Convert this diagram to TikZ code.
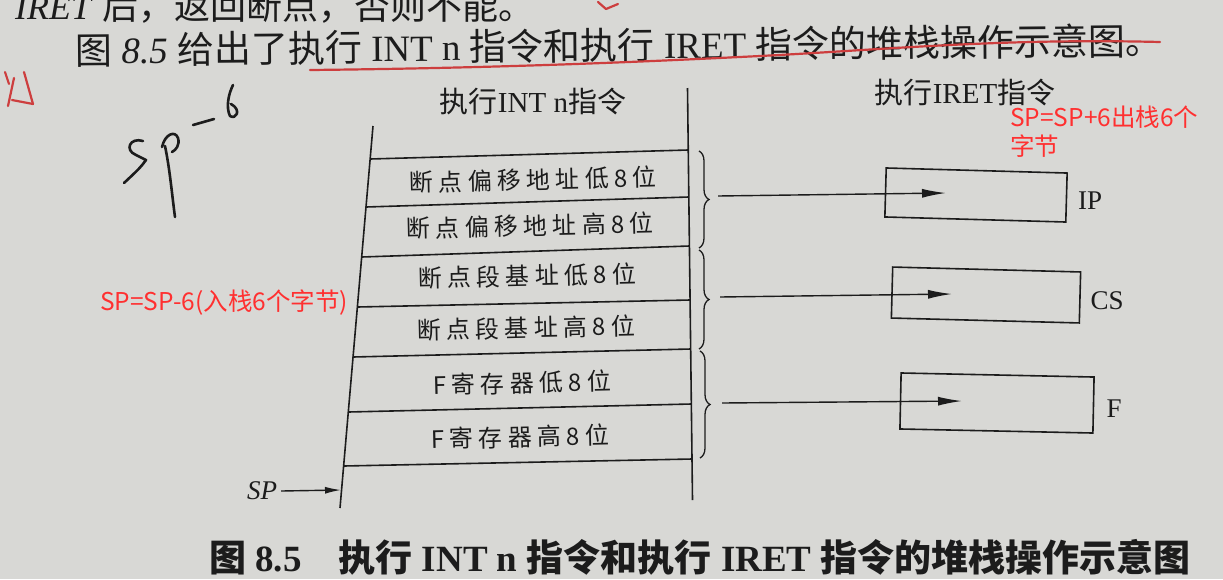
\documentclass[tikz,border=0pt]{standalone}
\usepackage{fontspec}
\setmainfont{Liberation Serif}
\newfontfamily\cjk{Noto Sans CJK SC}
\newfontfamily\cjksp{Noto Sans CJK SC}[LetterSpace=22]
\usetikzlibrary{arrows.meta,decorations.pathreplacing}
\definecolor{paper}{RGB}{216,216,213}
\definecolor{ink}{RGB}{28,28,28}
\definecolor{redtxt}{RGB}{255,48,48}
\definecolor{redpen}{RGB}{205,62,62}
\newcommand{\zh}[1]{{\cjk #1}}
\newcommand{\fsz}[1]{\fontsize{#1}{#1}\selectfont}
\tikzset{
  stackline/.style={draw=ink, line width=1.6pt},
  cell/.style={font=\cjksp\fsz{24}, text=ink, rotate=1.3, inner sep=0pt},
  bracestyle/.style={draw=ink, line width=1.3pt, decorate, decoration={brace, amplitude=10pt}},
  arr/.style={draw=ink, line width=1.4pt, -{Latex[length=24pt,width=9pt]}},
  regbox/.style={draw=ink, line width=1.6pt, inner sep=0pt},
  reglabel/.style={font=\fsz{27}, text=ink, inner sep=0pt},
  note/.style={font=\cjk\fsz{24.5}, text=redtxt, inner sep=0pt, align=left},
  hand/.style={draw=ink, line width=2.6pt, line cap=round, line join=round},
  redhand/.style={draw=redpen, line width=2.2pt, line cap=round, line join=round},
}
\begin{document}
\begin{tikzpicture}[x=1pt,y=-1pt]
\useasboundingbox (0,0) rectangle (1223,579);
\fill[paper] (0,0) rectangle (1223,579);
\begin{scope}
\clip (0,0) rectangle (1223,579);

% book text (top)
\node[anchor=south west, inner sep=0pt, text=ink, font=\fsz{36}] (line0) at (15,24)
  {\textit{IRET} \zh{后，返回断点，否则不能。}};
\node[anchor=west, inner sep=0pt, text=ink, font=\fsz{37}, rotate=0.5] (line1) at (75,50)
  {\zh{图} \textit{8.5} \zh{给出了执行} INT n \zh{指令和执行} IRET \zh{指令的堆栈操作示意图。}};
\draw[redhand] (310,70) .. controls (500,68) and (640,62) .. (760,56)
  .. controls (880,50) and (1000,38) .. (1160,42);

% handwritten marks
\draw[redhand] (598,2) -- (606,9) -- (618,4);
\draw[redhand] (5,72) -- (9,84);
\draw[redhand] (14,78) -- (8,106);
\draw[redhand] (24,72) -- (33,104) -- (12,100);
\draw[hand] (143,141) .. controls (130,137) and (124,150) .. (136,155)
  -- (146,160) .. controls (140,168) .. (124,183);
\draw[hand] (165,146) .. controls (170,170) and (172,195) .. (175,217);
\draw[hand] (162,147) .. controls (165,134) and (175,130) .. (178,138)
  .. controls (180,145) and (176,150) .. (172,152);
\draw[hand] (193,125) -- (214,119);
\draw[hand] (233,85) .. controls (228,95) and (226,108) .. (230,116)
  .. controls (236,120) and (242,110) .. (231,104);

% titles
\node[inner sep=0pt, text=ink, font=\fsz{29}] (tint) at (533,101)
  {\zh{执行}INT n\zh{指令}};
\node[inner sep=0pt, text=ink, font=\fsz{29}] (tiret) at (965,92)
  {\zh{执行}IRET\zh{指令}};

% stack outline
\coordinate (Ltop) at (373,126);
\coordinate (Lbot) at (340,508);
\coordinate (Rtop) at (687.5,88);
\coordinate (Rbot) at (692.5,500);
\draw[stackline] (Ltop) -- (Lbot);
\draw[stackline] (Rtop) -- (Rbot);
\coordinate (L0) at (370.1,159); \coordinate (R0) at (688.3,150);
\coordinate (L1) at (366.0,207); \coordinate (R1) at (688.9,197);
\coordinate (L2) at (361.7,257); \coordinate (R2) at (689.5,246);
\coordinate (L3) at (357.4,307); \coordinate (R3) at (690.2,300);
\coordinate (L4) at (353.0,357); \coordinate (R4) at (690.8,349);
\coordinate (L5) at (348.3,412); \coordinate (R5) at (691.5,404);
\coordinate (L6) at (343.6,466); \coordinate (R6) at (692.1,459);
\foreach \i in {0,...,6} \draw[stackline] (L\i) -- (R\i);

% cells
\node[cell] (c1) at (533,180) {断点偏移地址低8位};
\node[cell] (c2) at (530,226) {断点偏移地址高8位};
\node[cell] (c3) at (527,276) {断点段基址低8位};
\node[cell] (c4) at (526,328) {断点段基址高8位};
\node[cell] (c5) at (522,383) {F寄存器低8位};
\node[cell] (c6) at (520,437) {F寄存器高8位};

% braces
\draw[bracestyle] (699,151) -- (699,248);
\draw[bracestyle] (699,250) -- (699,349);
\draw[bracestyle] (700,351) -- (700,458);

% registers
\node[regbox, minimum width=181pt, minimum height=49pt, rotate=-1.6] (ipbox) at (976,195) {};
\node[regbox, minimum width=188pt, minimum height=51pt, rotate=-1.5] (csbox) at (986,295) {};
\node[regbox, minimum width=193pt, minimum height=56pt, rotate=-1.2] (fbox) at (997,403) {};
\node[reglabel] (lip) at (1090,201) {IP};
\node[reglabel] (lcs) at (1107,301) {CS};
\node[reglabel] (lf) at (1114,409) {F};

% arrows from braces into registers
\coordinate (a1s) at (718,196); \coordinate (a1e) at (946,193);
\coordinate (a2s) at (720,297); \coordinate (a2e) at (952,294);
\coordinate (a3s) at (722,403); \coordinate (a3e) at (962,401);
\draw[arr] (a1s) -- (a1e);
\draw[arr] (a2s) -- (a2e);
\draw[arr] (a3s) -- (a3e);

% SP pointer
\node[inner sep=0pt, text=ink, font=\fsz{27}] (sp) at (262,491) {\textit{SP}};
\coordinate (sptip) at (341,490);
\draw[draw=ink, line width=1.4pt, -{Latex[length=16pt,width=7pt]}] (sp.east) ++(4,0) -- (sptip);

% red annotations
\node[note, anchor=west] (pushnote) at (100,303) {SP=SP-6(入栈6个字节)};
\node[note, anchor=north west] (popnote) at (1010,106) {SP=SP+6出栈6个\\[4pt]字节};

% caption
\node[inner sep=0pt, text=ink, font=\bfseries\fsz{37}] (caption) at (700,557)
  {\zh{\bfseries 图} 8.5\quad \zh{\bfseries 执行} INT n \zh{\bfseries 指令和执行} IRET \zh{\bfseries 指令的堆栈操作示意图}};
\end{scope}
\end{tikzpicture}
\end{document}
